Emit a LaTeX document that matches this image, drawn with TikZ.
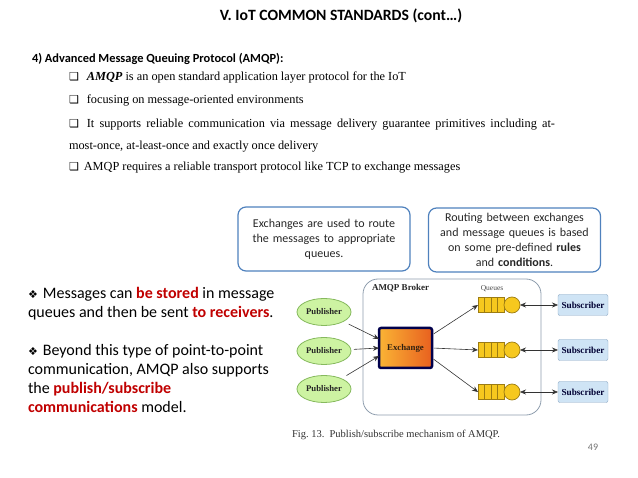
\documentclass[tikz,border=0pt]{standalone}
\usepackage{fontspec}
\setmainfont{Carlito}
\newfontfamily\timesfont{Liberation Serif}
\newfontfamily\symfont{DejaVu Sans}
\usetikzlibrary{positioning,shapes.geometric,arrows.meta}

\definecolor{slidered}{HTML}{C00000}
\definecolor{callblue}{HTML}{4F81BD}
\definecolor{pubgreen}{HTML}{CDF3A2}
\definecolor{pubedge}{HTML}{86B95E}
\definecolor{subblue}{HTML}{CFE4F5}
\definecolor{subedge}{HTML}{8AA6C2}
\definecolor{queuefill}{HTML}{F6C81E}
\definecolor{queueedge}{HTML}{9C7C12}
\definecolor{brokeredge}{HTML}{8E9DAD}
\definecolor{exchA}{HTML}{FAB435}
\definecolor{exchB}{HTML}{E8601F}

\newcommand{\sqbul}{{\symfont\fontsize{11}{11}\selectfont ❑}}
\newcommand{\dmbul}{{\symfont\fontsize{11}{11}\selectfont ❖}}
\newcommand{\hl}[1]{\textcolor{slidered}{\textbf{#1}}}

\begin{document}
\begin{tikzpicture}[x=1pt,y=-1pt,>={Stealth[length=6pt,width=5pt]},
  every node/.style={inner sep=0pt,outer sep=0pt},
  bodyline/.style={anchor=west,font=\timesfont\fontsize{12.3}{14}\selectfont},
  callout/.style={draw=callblue,line width=1.2pt,rounded corners=8pt,align=center,
    inner sep=4pt,text width=164pt,minimum height=64pt,font=\fontsize{12}{15}\selectfont,text=black!85},
  publisher/.style={ellipse,draw=pubedge,fill=pubgreen,line width=0.8pt,minimum width=54pt,
    minimum height=27pt,font=\timesfont\bfseries\fontsize{8.7}{8.7}\selectfont,text=black!85},
  subscriber/.style={draw=subedge,fill=subblue,rounded corners=2pt,minimum width=50pt,
    minimum height=21pt,font=\timesfont\bfseries\fontsize{9.2}{9.2}\selectfont,text=black!80!blue},
  qcells/.style={draw=queueedge,fill=queuefill,line width=0.7pt,minimum width=26pt,minimum height=15pt},
  qhead/.style={circle,draw=queueedge,fill=queuefill,line width=0.7pt,minimum size=16pt},
  link/.style={->,line width=0.6pt,black!80},
  twoway/.style={<->,line width=0.6pt,black!80}]

  \useasboundingbox (0,0) rectangle (638,478);

  % title and bullets
  \node (title) at (341,16) {\bfseries\fontsize{15.7}{18}\selectfont V. IoT COMMON STANDARDS (cont…)};
  \node[anchor=west] (sect) at (32,59) {\bfseries\fontsize{12.4}{14}\selectfont 4) Advanced Message Queuing Protocol (AMQP):};

  \node[bodyline] (b1) at (69,78) {\sqbul\hspace{8pt}\textbf{\textit{AMQP}} is an open standard application layer protocol for the IoT};
  \node[bodyline] (b2) at (69,101) {\sqbul\hspace{8pt}focusing on message-oriented environments};
  \node[bodyline,font=\timesfont\fontsize{12.3}{22}\selectfont,text width=486pt,align=justify] (b3) at (69,136)
    {\sqbul\hspace{8pt}It supports reliable communication via message delivery guarantee primitives including at-\linebreak most-once, at-least-once and exactly once delivery};
  \node[bodyline] (b5) at (69,168) {\sqbul\hspace{5pt}AMQP requires a reliable transport protocol like TCP to exchange messages};

  % callouts
  \node[callout] (exnote) at (324,239) {Exchanges are used to route\\the messages to appropriate\\queues.};
  \node[callout] (rtnote) at (514.5,240) {Routing between exchanges\\and message queues is based\\on some pre-defined \textbf{rules}\\and \textbf{conditions}.};

  % left text
  \node[anchor=north west,align=left,font=\fontsize{16}{19}\selectfont] (msg1) at (28,287)
    {\dmbul\hspace{5pt}Messages can \hl{be stored} in message\\queues and then be sent \hl{to receivers}.};
  \node[anchor=north west,align=left,font=\fontsize{16}{19}\selectfont] (msg2) at (28,344)
    {\dmbul\hspace{5pt}Beyond this type of point-to-point\\communication, AMQP also supports\\the \hl{publish/subscribe}\\\hl{communications} model.};

  % broker figure
  \node[draw=brokeredge,line width=0.8pt,rounded corners=15pt,minimum width=178pt,minimum height=136pt] (broker) at (452,347) {};
  \node[anchor=west,font=\timesfont\bfseries\fontsize{9}{9}\selectfont,text=black!85] (brlabel) at (372,288) {AMQP Broker};
  \node[font=\timesfont\fontsize{7.5}{7.5}\selectfont,text=black!70] (qlabel) at (492,289) {Queues};

  \foreach \y [count=\i] in {312,351,389}
    \node[publisher] (pub\i) at (324,\y) {Publisher};

  \node[draw=black!70!blue,line width=2.5pt,rounded corners=2pt,left color=exchA,right color=exchB,
    minimum width=53pt,minimum height=40pt,font=\timesfont\bfseries\fontsize{8.8}{8.8}\selectfont,text=black!75!brown] (exch) at (405.5,348) {Exchange};

  \node[qcells] (qa) at (491,305) {};
  \node[qcells] (qb) at (491,350) {};
  \node[qcells] (qc) at (491,392) {};
  \foreach \q in {qa,qb,qc}
    \foreach \k in {1,2,3}
      \draw[queueedge,line width=0.7pt] ([xshift={\k*6.5pt}]\q.north west) -- ([xshift={\k*6.5pt}]\q.south west);
  \node[qhead,right=0pt of qa] (ha) {};
  \node[qhead,right=0pt of qb] (hb) {};
  \node[qhead,right=0pt of qc] (hc) {};

  \node[subscriber,right=38pt of ha] (sa) {Subscriber};
  \node[subscriber,right=38pt of hb] (sb) {Subscriber};
  \node[subscriber,right=38pt of hc] (sc) {Subscriber};

  \draw[link,shorten <=6pt] (pub1) -- ([yshift=9pt]exch.west);
  \draw[link,shorten <=3pt] (pub2) -- (exch.west);
  \draw[link,shorten <=6pt] (pub3) -- ([yshift=-8pt]exch.west);
  \draw[link,shorten <=2pt] ([yshift=13pt]exch.east) -- (qa.west);
  \draw[link,shorten <=2pt] (exch.east) -- (qb.west);
  \draw[link,shorten <=2pt] ([yshift=-10pt]exch.east) -- (qc.west);
  \draw[twoway] (ha) -- (sa);
  \draw[twoway] (hb) -- (sb);
  \draw[twoway] (hc) -- (sc);

  % caption and page number
  \node[font=\timesfont\fontsize{10.5}{12}\selectfont,text=black!80] (caption) at (396,435) {Fig.~13.\ \ Publish/subscribe mechanism of AMQP.};
  \node[font=\fontsize{10}{12}\selectfont,text=black!55] (pageno) at (593,447) {49};
\end{tikzpicture}
\end{document}
